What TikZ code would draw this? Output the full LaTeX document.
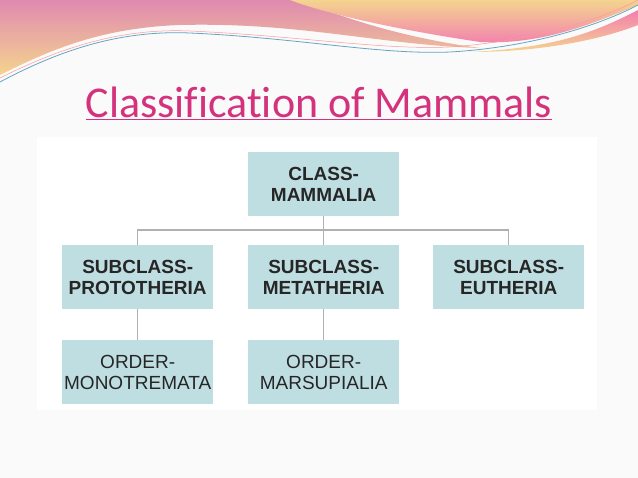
\documentclass[tikz,border=0pt]{standalone}
\usepackage{fontspec}
\setmainfont{Liberation Sans}
\newfontfamily\titlefont[Ligatures=NoCommon]{Carlito}
\definecolor{boxc}{HTML}{BFDEE1}
\definecolor{titlec}{HTML}{D4327C}
\definecolor{pinkA}{HTML}{E08AB0}
\definecolor{yelA}{HTML}{F4D48E}
\definecolor{pinkB}{HTML}{F27FB0}
\definecolor{linec}{HTML}{B0B0B0}
\definecolor{txt}{HTML}{262626}
\begin{document}
\begin{tikzpicture}[x=1pt,y=-1pt,
  bx/.style={fill=boxc,draw=none,minimum width=151pt,minimum height=64pt,anchor=north west,align=center,text=txt,font=\fontsize{19}{21}\selectfont\bfseries,inner sep=0pt},
  ox/.style={bx,font=\fontsize{19}{21}\selectfont},
  conn/.style={draw=linec,line width=1.2pt}]
\useasboundingbox (0,0) rectangle (638,478);
\fill[white!98!black] (0,0) rectangle (638,478);
% banner
\shade[top color=pinkA,bottom color=yelA] (0,0) -- (300,0) .. controls (360,25) and (420,40) .. (480,48) .. controls (380,45) and (300,22) .. (180,25) .. controls (100,28) and (50,50) .. (0,75) -- cycle;
\shade[top color=yelA,bottom color=pinkB] (290,0) -- (638,0) -- (638,5) .. controls (590,25) and (540,45) .. (480,42) .. controls (400,30) and (330,15) .. (290,0) -- cycle;
\shade[top color=pinkB,bottom color=yelA] (638,10) .. controls (590,35) and (550,48) .. (470,52) .. controls (540,52) and (600,40) .. (638,25) -- cycle;
\draw[cyan!50!gray,line width=0.8pt] (0,82) .. controls (60,50) and (120,30) .. (190,33) .. controls (300,38) and (380,55) .. (450,52) .. controls (520,48) and (590,30) .. (638,5);
\draw[pink!80!red,line width=0.5pt] (0,78) .. controls (60,48) and (120,28) .. (190,31) .. controls (300,36) and (380,50) .. (450,47) .. controls (520,42) and (590,25) .. (638,0);
% title
\node[font=\titlefont\fontsize{44}{48}\selectfont,text=titlec] (t) at (319,103) {\underline{Classification of Mammals}};
% panel
\fill[white] (37,137) rectangle (597,410);
\node[bx] (c) at (248,152) {CLASS-\\MAMMALIA};
\node[bx] (p) at (62,245) {SUBCLASS-\\PROTOTHERIA};
\node[bx] (m) at (248,245) {SUBCLASS-\\METATHERIA};
\node[bx] (e) at (433,245) {SUBCLASS-\\EUTHERIA};
\node[ox] (o1) at (62,340) {ORDER-\\MONOTREMATA};
\node[ox] (o2) at (248,340) {ORDER-\\MARSUPIALIA};
\coordinate (j) at (c.south |- 0,230);
\draw[conn] (c.south) -- (j);
\draw[conn] (p.north) -- (p.north |- j) -- (e.north |- j) -- (e.north);
\draw[conn] (j) -- (m.north);
\draw[conn] (p.south) -- (o1.north);
\draw[conn] (m.south) -- (o2.north);
\end{tikzpicture}
\end{document}
